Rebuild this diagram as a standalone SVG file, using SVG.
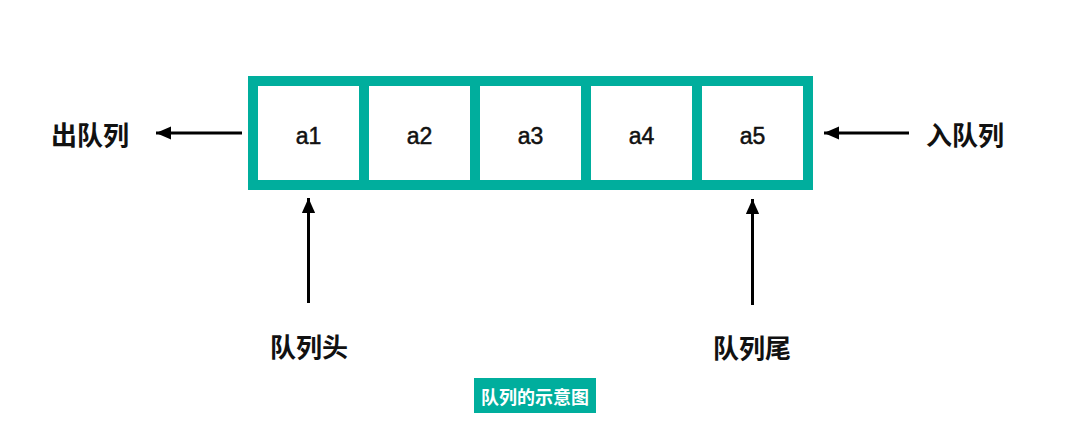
<svg xmlns="http://www.w3.org/2000/svg" width="1071" height="427" viewBox="0 0 1071 427">
<defs>
<style>
.cell{fill:#ffffff;}
.frame{fill:#00AE9D;}
.val{font-family:"Liberation Sans",Arial,sans-serif;font-size:23px;fill:#111111;stroke:#111111;stroke-width:0.5;text-anchor:middle;}
.lbl{font-family:"Noto Sans CJK SC","Noto Sans",sans-serif;font-size:26px;font-weight:bold;fill:#111111;text-anchor:middle;dominant-baseline:central;}
.cap{font-family:"Noto Sans CJK SC","Noto Sans",sans-serif;font-size:18px;font-weight:bold;fill:#ffffff;text-anchor:middle;dominant-baseline:central;}
.conn{stroke:#000000;stroke-width:3;fill:none;marker-end:url(#ah);}
</style>
<marker id="ah" markerWidth="5" markerHeight="4.4" refX="5" refY="2.2" orient="auto" markerUnits="strokeWidth">
<path d="M0,0 L5,2.2 L0,4.4 Z" fill="#000000"/>
</marker>
</defs>
<rect width="1071" height="427" fill="#ffffff"/>
<g id="queue">
<rect class="frame" x="248" y="76" width="565" height="114"/>
<g id="a1"><rect class="cell" x="258" y="86" width="101" height="94"/><text class="val" x="308.5" y="144">a1</text></g>
<g id="a2"><rect class="cell" x="369" y="86" width="101" height="94"/><text class="val" x="419.5" y="144">a2</text></g>
<g id="a3"><rect class="cell" x="480" y="86" width="101" height="94"/><text class="val" x="530.5" y="144">a3</text></g>
<g id="a4"><rect class="cell" x="591" y="86" width="101" height="94"/><text class="val" x="641.5" y="144">a4</text></g>
<g id="a5"><rect class="cell" x="702" y="86" width="101" height="94"/><text class="val" x="752.5" y="144">a5</text></g>
</g>
<g id="dequeue"><text class="lbl" x="90" y="133">出队列</text></g>
<g id="enqueue"><text class="lbl" x="965" y="133">入队列</text></g>
<g id="head"><text class="lbl" x="309" y="345">队列头</text></g>
<g id="tail"><text class="lbl" x="752" y="346">队列尾</text></g>
<g id="caption">
<rect x="474" y="378" width="122" height="35" fill="#00AE9D"/>
<text class="cap" x="535" y="395.5">队列的示意图</text>
</g>
<g id="connectors">
<line class="conn" x1="242" y1="133" x2="156" y2="133"/>
<line class="conn" x1="909" y1="133" x2="824" y2="133"/>
<line class="conn" x1="308.5" y1="303" x2="308.5" y2="198"/>
<line class="conn" x1="752.5" y1="305" x2="752.5" y2="199"/>
</g>
</svg>
